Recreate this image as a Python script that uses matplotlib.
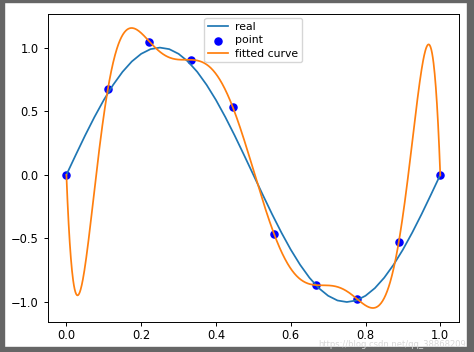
import numpy as np
import matplotlib
matplotlib.use("Agg")
import matplotlib.pyplot as plt
from matplotlib.patches import Rectangle

# noisy sample points
point_x = [0.0, 1/9, 2/9, 3/9, 4/9, 5/9, 6/9, 7/9, 8/9, 1.0]
point_y = [0.0, 0.677, 1.047, 0.904, 0.536, -0.466, -0.867, -0.977, -0.529, -0.005]

# "real" curve sampled every 0.025
real_x = [i * 0.025 for i in range(41)]
real_y = [0.000, 0.156, 0.309, 0.454, 0.588, 0.707, 0.809, 0.891, 0.951, 0.988,
          1.000, 0.988, 0.951, 0.891, 0.809, 0.707, 0.588, 0.454, 0.309, 0.156,
          0.000, -0.156, -0.309, -0.454, -0.588, -0.707, -0.809, -0.891, -0.951, -0.988,
          -1.000, -0.988, -0.951, -0.891, -0.809, -0.707, -0.588, -0.454, -0.309, -0.156,
          0.000]

fit_degree = 9

W, H = 474, 352
fig = plt.figure(figsize=(W / 100, H / 100), dpi=100)
fig.patch.set_facecolor("white")

ax = fig.add_axes([47.7 / W, (H - 322) / H, (459 - 47.7) / W, (322 - 14) / H])

coef = np.polyfit(point_x, point_y, fit_degree)
fx = np.linspace(0, 1, 1000)
fy = np.polyval(coef, fx)

ax.plot(real_x, real_y, color="#1f77b4", lw=1.25, label="real")
ax.scatter(point_x, point_y, color="blue", s=26, label="point")
ax.plot(fx, fy, color="#ff7f0e", lw=1.25, label="fitted curve")

ax.set_xticks([0.0, 0.2, 0.4, 0.6, 0.8, 1.0])
ax.set_yticks([-1.0, -0.5, 0.0, 0.5, 1.0])
ax.tick_params(labelsize=8.3, length=3, width=0.7)
ax.tick_params(axis="x", pad=2.2)
for s in ax.spines.values():
    s.set_linewidth(0.7)

ax.legend(loc="upper center", fontsize=7.8, handlelength=1.8, borderpad=0.35,
          labelspacing=0.3, handletextpad=0.7, borderaxespad=0.4)

# window frame
fig.patches.append(Rectangle((0, 0), 4 / W, 1, transform=fig.transFigure,
                             color="#666666", zorder=0))
fig.patches.append(Rectangle((467 / W, 0), 7 / W, 1, transform=fig.transFigure,
                             color="#666666", zorder=0))
fig.patches.append(Rectangle((0, 1 - 2 / H), 1, 2 / H, transform=fig.transFigure,
                             color="#666666", zorder=0))
fig.patches.append(Rectangle((0, 0), 1, 5 / H, transform=fig.transFigure,
                             color="#666666", zorder=0))

fig.text(466 / W, (H - 349) / H, "https://blog.csdn.net/qq_38868209",
         ha="right", va="bottom", fontsize=6.0, color="#d8d8d8")

fig.savefig("out.png", dpi=100)
